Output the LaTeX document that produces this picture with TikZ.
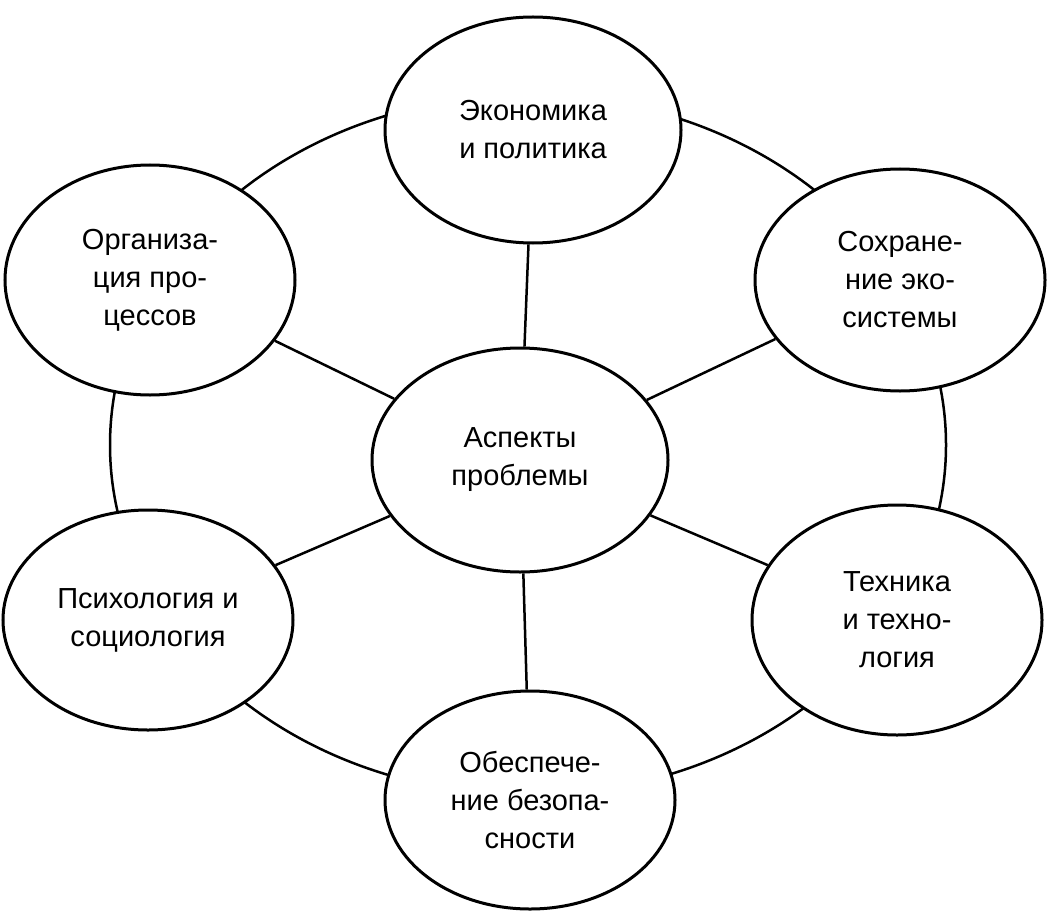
\documentclass[tikz,border=0pt]{standalone}
\usepackage{fontspec}
\setmainfont{Liberation Sans}
\usetikzlibrary{shapes.geometric}
\begin{document}
\begin{tikzpicture}[x=1pt,y=-1pt,
  el/.style={ellipse,draw,line width=3pt,fill=white,inner sep=0pt,align=center,font=\fontsize{29}{38}\selectfont},
  ln/.style={line width=2.5pt}]
\useasboundingbox (0,0) rectangle (1048,912);
\coordinate (rc) at (528,445);
\draw[ln] (rc) ellipse [x radius=418, y radius=350];
\node[el,minimum width=296,minimum height=224] (c) at (520,460) {Аспекты\\проблемы};
\node[el,minimum width=296,minimum height=226] (t) at (533,130) {Экономика\\и политика};
\node[el,minimum width=290,minimum height=230] (lu) at (150,280) {Организа-\\ция про-\\цессов};
\node[el,minimum width=290,minimum height=222] (ru) at (900,280) {Сохране-\\ние эко-\\системы};
\node[el,minimum width=290,minimum height=220] (ll) at (148,620) {Психология и\\социология};
\node[el,minimum width=290,minimum height=230] (rl) at (897,620) {Техника\\и техно-\\логия};
\node[el,minimum width=290,minimum height=218] (b) at (530,800) {Обеспече-\\ние безопа-\\сности};
\begin{scope}[on background layer/.try]
\end{scope}
\foreach \n in {t,lu,ru,ll,rl,b}{\draw[ln] (c) -- (\n);}
\end{tikzpicture}
\end{document}
